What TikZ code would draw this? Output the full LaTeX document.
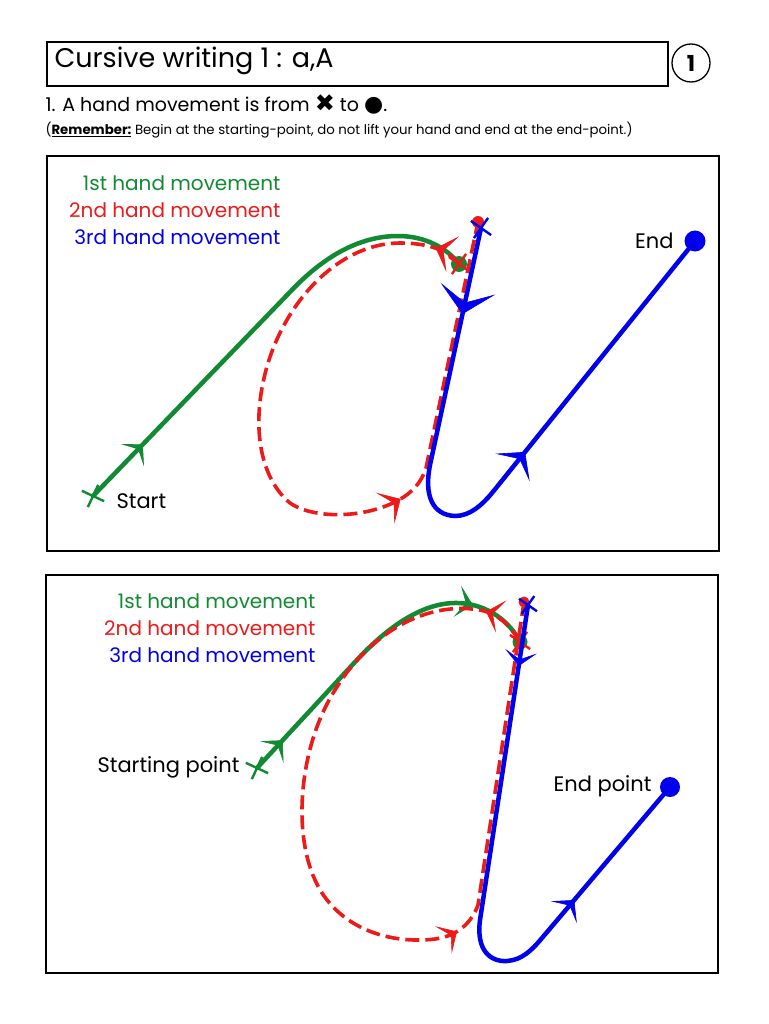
\documentclass[tikz,border=0pt]{standalone}
\usepackage{fontspec}
\setmainfont{Poppins}
\newfontfamily\symfont{DejaVu Sans}
\usetikzlibrary{arrows.meta,decorations.markings,shapes.misc}
\definecolor{mvgreen}{RGB}{18,138,52}
\definecolor{mvred}{RGB}{238,26,26}
\definecolor{mvblue}{RGB}{0,0,236}
\tikzset{
  gline/.style={mvgreen,line width=4.5pt},
  rline/.style={mvred,line width=3.6pt,dash pattern=on 14pt off 6pt},
  bline/.style={mvblue,line width=4.5pt},
  mv/.style n args={3}{postaction={decorate,decoration={markings,
      mark=at position #1 with {\arrow{Stealth[length=#2,width=#3,inset'=0pt 0.55,line width=0.6pt]}}}}},
  xmark/.style={cross out,draw,line width=2.4pt,minimum size=15pt,inner sep=0pt},
  dot/.style={circle,fill,inner sep=0pt,minimum size=#1},
  legend/.style={anchor=east,font=\fontsize{20}{22}\selectfont},
  lbl/.style={font=\fontsize{21}{23}\selectfont}
}
\begin{document}
\begin{tikzpicture}[x=1pt,y=1pt]
\useasboundingbox[fill=white] (0,0) rectangle (768,-1024);
% header
\draw[line width=2pt] (47,-42) rectangle (668,-86);
\node[anchor=west,font=\fontsize{27}{30}\selectfont] (title) at (51,-61) {Cursive writing 1 : a,A};
\node[circle,draw,line width=1.3pt,minimum size=38pt,inner sep=0pt,font=\fontsize{22}{24}\selectfont\bfseries] (num) at (691,-63) {1};
\node[anchor=west,font=\fontsize{19}{21}\selectfont] (instr) at (42,-104) {1. A hand movement is from {\symfont\fontsize{24}{24}\selectfont ✖} to {\symfont\fontsize{22}{22}\selectfont ●}.};
\node[anchor=west,font=\fontsize{13.3}{15}\selectfont] (remark) at (42,-130) {(\underline{\textbf{Remember:}} Begin at the starting-point, do not lift your hand and end at the end-point.)};

% panel 1
\draw[line width=1.6pt] (47,-156) rectangle (719,-551);
\node[legend,mvgreen] (lgA1) at (284,-183) {1st hand movement};
\node[legend,mvred] (lgA2) at (284,-210) {2nd hand movement};
\node[legend,mvblue] (lgA3) at (284,-237) {3rd hand movement};
\node[lbl,anchor=west] (startA) at (113,-501) {Start};
\node[lbl,anchor=east] (endA) at (677,-241) {End};
\node[xmark,mvgreen,rotate=20] (gsA) at (93,-496) {};
\node[dot=16pt,mvgreen] (gdA) at (459,-264) {};
\draw[gline,mv={0.15}{15pt}{32pt}] (gsA.center) -- (290,-292) .. controls (322,-258) and (358,-236) .. (398,-236) .. controls (425,-236) and (447,-248) .. (gdA.center);
\node[xmark,mvred,rotate=10] (rsA) at (459,-264) {};
\node[dot=12pt,mvred] (rdA) at (478,-222) {};
\draw[rline,mv={0.035}{18pt}{38pt},mv={0.64}{18pt}{36pt}] (rsA.center) .. controls (448,-250) and (428,-243) .. (400,-243) .. controls (340,-243) and (285,-300) .. (266,-370) .. controls (250,-430) and (262,-480) .. (290,-503) .. controls (310,-517) and (350,-518) .. (380,-508) .. controls (405,-500) and (420,-487) .. (426,-468) -- (rdA.center);
\node[xmark,mvblue,rotate=10] (bsA) at (481,-228) {};
\node[dot=21pt,mvblue] (bdA) at (695,-241) {};
\draw[bline,mv={0.13}{26pt}{56pt},mv={0.6}{20pt}{44pt}] (bsA.center) -- (430,-465) .. controls (424,-495) and (432,-515) .. (455,-516) .. controls (470,-516) and (482,-505) .. (492,-493) -- (bdA.center);

% panel 2
\draw[line width=1.6pt] (46,-575) rectangle (718,-973);
\node[legend,mvgreen] (lgB1) at (319,-601) {1st hand movement};
\node[legend,mvred] (lgB2) at (319,-628) {2nd hand movement};
\node[legend,mvblue] (lgB3) at (319,-655) {3rd hand movement};
\node[lbl,anchor=east] (startB) at (243,-767) {Starting point};
\node[lbl,anchor=east] (endB) at (655,-786) {End point};
\node[xmark,mvgreen,rotate=20] (gsB) at (257,-768) {};
\node[dot=15pt,mvgreen] (gdB) at (520,-642) {};
\draw[gline,mv={0.11}{16pt}{32pt},mv={0.82}{16pt}{32pt}] (gsB.center) -- (355,-662) .. controls (390,-624) and (425,-602) .. (458,-603) .. controls (488,-604) and (510,-622) .. (gdB.center);
\node[xmark,mvred,rotate=10] (rsB) at (520,-642) {};
\node[dot=11pt,mvred] (rdB) at (524,-602) {};
\draw[rline,mv={0.05}{16pt}{34pt},mv={0.635}{16pt}{32pt}] (rsB.center) .. controls (512,-628) and (500,-614) .. (480,-610) .. controls (420,-600) and (365,-640) .. (335,-690) .. controls (300,-745) and (292,-830) .. (315,-880) .. controls (335,-925) and (385,-945) .. (435,-939) .. controls (458,-936) and (472,-922) .. (478,-905) -- (rdB.center);
\node[xmark,mvblue,rotate=10,minimum size=13pt] (bsB) at (528,-605) {};
\node[dot=20pt,mvblue] (bdB) at (670,-787) {};
\draw[bline,mv={0.1}{15pt}{32pt},mv={0.76}{16pt}{34pt}] (bsB.center) -- (480,-920) .. controls (476,-950) and (490,-962) .. (507,-961) .. controls (522,-960) and (532,-950) .. (542,-938) -- (bdB.center);
\end{tikzpicture}
\end{document}
